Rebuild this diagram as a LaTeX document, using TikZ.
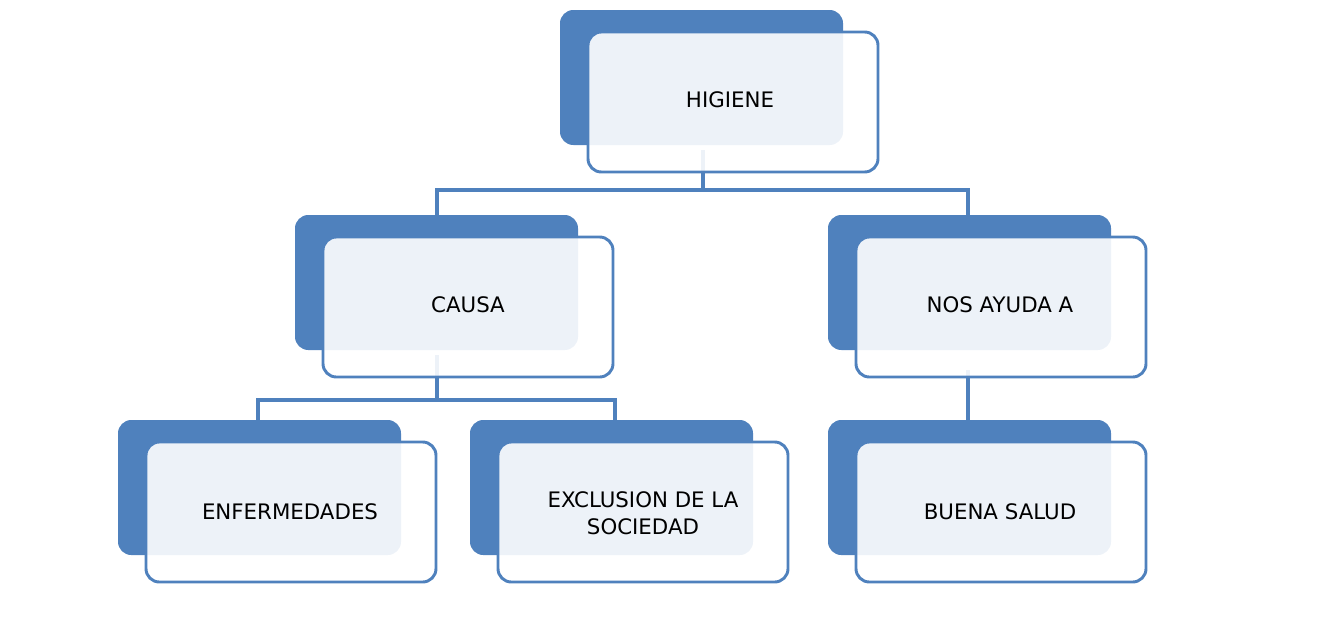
\documentclass[tikz,border=0pt]{standalone}
\usepackage{fontspec}
\setmainfont{DejaVu Sans}
\definecolor{bl}{HTML}{4F81BD}
\tikzset{
 back/.style={fill=bl,rounded corners=10pt},
 front/.style={draw=bl,line width=2.2pt,fill=white,fill opacity=0.9,rounded corners=10pt},
 lab/.style={font=\fontsize{16}{20}\selectfont,align=center,text=black},
 conn/.style={draw=bl,line width=2.5pt}
}
\newcommand{\tbox}[6]{%
 \fill[back] (#1,#2) rectangle ++(283,135);
 \draw[front] (#1+28,#2+22) rectangle ++(290,140);
 \node[lab] (#3) at (#1+#4,#2+#5) {#6};}
\begin{document}
\begin{tikzpicture}[x=0.75pt,y=-0.75pt]
\useasboundingbox (0,0) rectangle (1338,640);
\coordinate (h) at (703,150);
\coordinate (h1) at (703,190);
\coordinate (c1) at (437,190);
\coordinate (c2) at (437,215);
\coordinate (n1) at (968,190);
\coordinate (n2) at (968,215);
\coordinate (a) at (437,355);
\coordinate (a1) at (437,400);
\coordinate (e1) at (258,400);
\coordinate (e2) at (258,420);
\coordinate (x1) at (615,400);
\coordinate (x2) at (615,420);
\coordinate (b) at (968,370);
\coordinate (b1) at (968,420);
\draw[conn] (h) -- (h1);
\draw[conn] (c2) -- (c1) -- (n1) -- (n2);
\draw[conn] (a) -- (a1);
\draw[conn] (e2) -- (e1) -- (x1) -- (x2);
\draw[conn] (b) -- (b1);
\tbox{560}{10}{hig}{170}{90}{HIGIENE}
\tbox{295}{215}{cau}{173}{90}{CAUSA}
\tbox{828}{215}{nos}{172}{90}{NOS AYUDA A}
\tbox{118}{420}{enf}{172}{92}{ENFERMEDADES}
\tbox{470}{420}{exc}{173}{93}{EXCLUSION DE LA\\SOCIEDAD}
\tbox{828}{420}{bue}{172}{92}{BUENA SALUD}
\end{tikzpicture}
\end{document}
